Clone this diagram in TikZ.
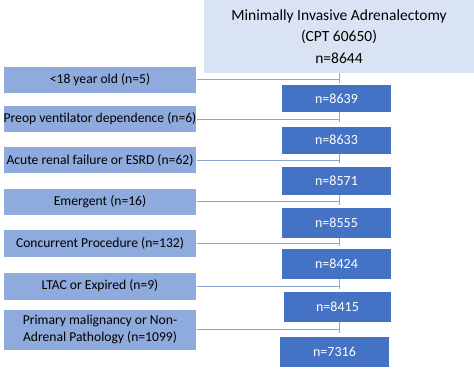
\documentclass[tikz,border=0pt]{standalone}
\usepackage{fontspec}
\setmainfont{Carlito}
\definecolor{topfill}{HTML}{DAE3F3}
\definecolor{leftfill}{HTML}{8FAADC}
\definecolor{rightfill}{HTML}{4472C4}
\definecolor{linecol}{HTML}{8EA6D2}
\begin{document}
\begin{tikzpicture}[x=1pt,y=-1pt,
  topbox/.style={fill=topfill,draw=none,minimum width=270pt,minimum height=73pt,align=center,inner sep=0pt,font=\fontsize{15.5}{21.5}\selectfont},
  leftbox/.style={fill=leftfill,draw=white,line width=0.6pt,minimum width=193pt,inner sep=0pt,align=center,font=\fontsize{13.6}{17}\selectfont},
  rightbox/.style={fill=rightfill,draw=none,minimum width=109pt,minimum height=28pt,inner sep=0pt,text=white,font=\fontsize{14}{15}\selectfont},
  conn/.style={draw=linecol,line width=0.9pt}]
\useasboundingbox (0,0) rectangle (474,370);
\node[topbox] (top) at (339,36.5) {Minimally Invasive Adrenalectomy\\(CPT 60650)\\n=8644};
\node[leftbox,minimum height=27pt] (l1) at (100,79.5) {<18 year old (n=5)};
\node[leftbox,minimum height=27pt] (l2) at (100,119) {Preop ventilator dependence (n=6)};
\node[leftbox,minimum height=27pt] (l3) at (100,160) {Acute renal failure or ESRD (n=62)};
\node[leftbox,minimum height=27pt] (l4) at (100,201.5) {Emergent (n=16)};
\node[leftbox,minimum height=28pt] (l5) at (100,243) {Concurrent Procedure (n=132)};
\node[leftbox,minimum height=28pt] (l6) at (100,286) {LTAC or Expired (n=9)};
\node[leftbox,minimum height=41pt] (l7) at (100,329.5) {Primary malignancy or Non-\\Adrenal Pathology (n=1099)};
\node[rightbox,minimum height=27pt] (r1) at (336.5,98.5) {n=8639};
\node[rightbox,minimum height=27pt] (r2) at (336.5,140) {n=8633};
\node[rightbox] (r3) at (336.5,181) {n=8571};
\node[rightbox,minimum height=30pt] (r4) at (336.5,223) {n=8555};
\node[rightbox,minimum height=30pt] (r5) at (336.5,264) {n=8424};
\node[rightbox,minimum width=107pt,minimum height=30pt] (r6) at (337.5,307) {n=8415};
\node[rightbox,minimum height=30pt] (r7) at (334.5,352) {n=7316};
\coordinate (j1) at (l1.east -| top.south);
\coordinate (j2) at (l2.east -| top.south);
\coordinate (j3) at (l3.east -| top.south);
\coordinate (j4) at (l4.east -| top.south);
\coordinate (j5) at (l5.east -| top.south);
\coordinate (j6) at (l6.east -| top.south);
\coordinate (j7) at (l7.east -| top.south);
\draw[conn] (top.south -| j1) -- ([yshift=-3pt]j1);
\draw[conn] (r1.south -| j2) -- ([yshift=-3pt]j2);
\draw[conn] (r2.south -| j3) -- ([yshift=-3pt]j3);
\draw[conn] (r3.south -| j4) -- ([yshift=-3pt]j4);
\draw[conn] (r4.south -| j5) -- ([yshift=-3pt]j5);
\draw[conn] (r5.south -| j6) -- ([yshift=-3pt]j6);
\draw[conn] (r6.south -| j7) -- ([yshift=-3pt]j7);
\draw[conn] (l1.east) -- (j1);
\draw[conn] (l2.east) -- (j2);
\draw[conn] (l3.east) -- (j3);
\draw[conn] (l4.east) -- (j4);
\draw[conn] (l5.east) -- (j5);
\draw[conn] (l6.east) -- (j6);
\draw[conn] (l7.east) -- (j7);
\end{tikzpicture}
\end{document}
